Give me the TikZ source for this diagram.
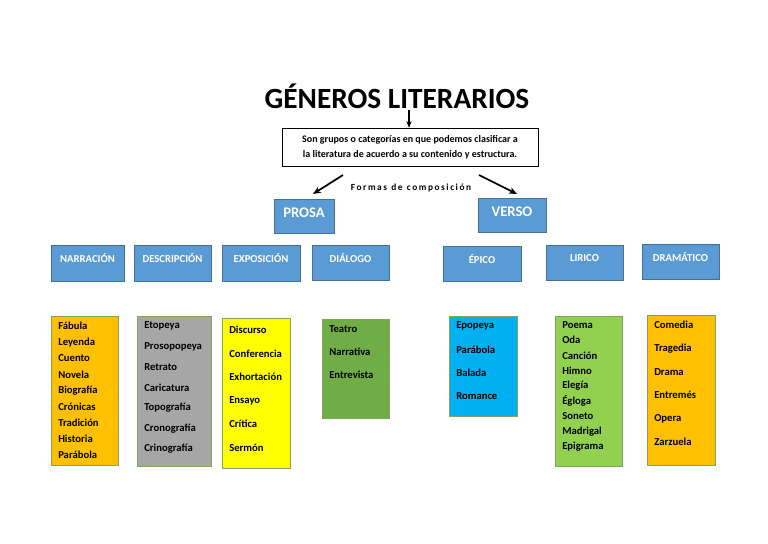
\documentclass[tikz,border=0pt]{standalone}
\usepackage{fontspec}
\setmainfont{Carlito}
\usetikzlibrary{arrows.meta,calc}
\definecolor{hblue}{HTML}{5B9BD5}
\definecolor{hborder}{HTML}{41719C}
\definecolor{corange}{HTML}{FFC000}
\definecolor{cgray}{HTML}{A6A6A6}
\definecolor{cyellow}{HTML}{FFFF00}
\definecolor{cgreen}{HTML}{70AD47}
\definecolor{ccyan}{HTML}{00B0F0}
\definecolor{clgreen}{HTML}{92D050}
\definecolor{lborder}{HTML}{7FA65A}
\tikzset{
 hbox/.style={draw=hborder,fill=hblue,line width=0.6pt},
 htext/.style={text=white,font=\bfseries\fontsize{8}{9}\selectfont},
 lbox/.style={draw=lborder,line width=0.6pt},
 item/.style={anchor=west,inner sep=0pt,font=\bfseries\fontsize{8}{9}\selectfont},
 arr/.style={-{Stealth[length=6pt,width=5pt]},line width=1.3pt}
}
\newcommand{\hb}[6]{\node[hbox,minimum width={(#3-#1)*0.75pt},minimum height={(#4-#2)*0.75pt},anchor=north west,inner sep=0pt] (#5) at (#1,#2) {};
 \node[htext] (#5t) at ({(#1+#3)/2},#2+13) {#6};}
\newcommand{\lb}[6]{\node[lbox,fill=#6,minimum width={(#3-#1)*0.75pt},minimum height={(#4-#2)*0.75pt},anchor=north west,inner sep=0pt] (#5) at (#1,#2) {};}
\begin{document}
\begin{tikzpicture}[x=0.75pt,y=-0.75pt]
\useasboundingbox[fill=white] (0,0) rectangle (768,543);
\node[font=\bfseries\fontsize{22}{24}\selectfont] (title) at (397,96) {GÉNEROS LITERARIOS};
\coordinate (a1) at (409,110);
\node[draw,line width=0.6pt,minimum width=192pt,minimum height=29pt,inner sep=0pt,align=center,font=\bfseries\fontsize{7.5}{11}\selectfont] (def) at (410,147.5) {Son grupos o categorías en que podemos clasificar a\\la literatura de acuerdo a su contenido y estructura.};
\draw[-{Stealth[length=5pt,width=4pt]},line width=0.8pt] (a1) -- (def.north -| a1);
\node[font=\bfseries\fontsize{7}{8}\selectfont,inner sep=0pt] (formas) at (411,188) {F\,o\,r\,m\,a\,s\ \ d\,e\ \ c\,o\,m\,p\,o\,s\,i\,c\,i\,ó\,n};
\hb{274}{199}{334}{233}{prosa}{}
\node[text=white,font=\bfseries\fontsize{11}{12}\selectfont] at (304,213) {PROSA};
\hb{478}{198}{546}{232}{verso}{}
\node[text=white,font=\bfseries\fontsize{11}{12}\selectfont] at (512,212) {VERSO};
\coordinate (p1) at (343,175); \coordinate (v1) at (479,175);
\draw[arr] (p1) -- (313,194);
\draw[arr] (v1) -- (517,194);
\hb{51}{245}{124}{281}{nar}{NARRACIÓN}
\hb{134}{245}{211}{281}{des}{DESCRIPCIÓN}
\hb{222}{245}{300}{281}{exp}{EXPOSICIÓN}
\hb{312}{245}{389}{280}{dia}{DIÁLOGO}
\hb{443}{246}{521}{281}{epi}{ÉPICO}
\hb{546}{245}{623}{280}{lir}{LIRICO}
\hb{642}{244}{719}{279}{dra}{DRAMÁTICO}
\lb{51}{316}{118}{465}{l1}{corange}
\lb{137}{316}{211}{466}{l2}{cgray}
\lb{222}{318}{290}{468}{l3}{cyellow}
\lb{322}{319}{389}{418}{l4}{cgreen}
\lb{449}{316}{517}{416}{l5}{ccyan}
\lb{555}{316}{622}{466}{l6}{clgreen}
\lb{647}{315}{715}{465}{l7}{corange}
\foreach \t [count=\i] in {Fábula,Leyenda,Cuento,Novela,Biografía,Crónicas,Tradición,Historia,Parábola}
  \node[item] (a\i) at (58,{326+16.1*(\i-1)}) {\t};
\foreach \t [count=\i] in {Etopeya,Prosopopeya,Retrato,Caricatura,Topografía,Cronografía,Crinografía}
  \node[item] (b\i) at (144,{326+20.5*(\i-1)}) {\t};
\foreach \t [count=\i] in {Discurso,Conferencia,Exhortación,Ensayo,Crítica,Sermón}
  \node[item] (c\i) at (229,{330+23.5*(\i-1)}) {\t};
\foreach \t [count=\i] in {Teatro,Narrativa,Entrevista}
  \node[item] (d\i) at (329,{329+23*(\i-1)}) {\t};
\foreach \t [count=\i] in {Epopeya,Parábola,Balada,Romance}
  \node[item] (e\i) at (456,{326+23.3*(\i-1)}) {\t};
\foreach \t [count=\i] in {Poema,Oda,Canción,Himno,Elegía,Égloga,Soneto,Madrigal,Epigrama}
  \node[item] (f\i) at (562,{325+15.2*(\i-1)}) {\t};
\foreach \t [count=\i] in {Comedia,Tragedia,Drama,Entremés,Opera,Zarzuela}
  \node[item] (g\i) at (654,{325+23.4*(\i-1)}) {\t};
\end{tikzpicture}
\end{document}
